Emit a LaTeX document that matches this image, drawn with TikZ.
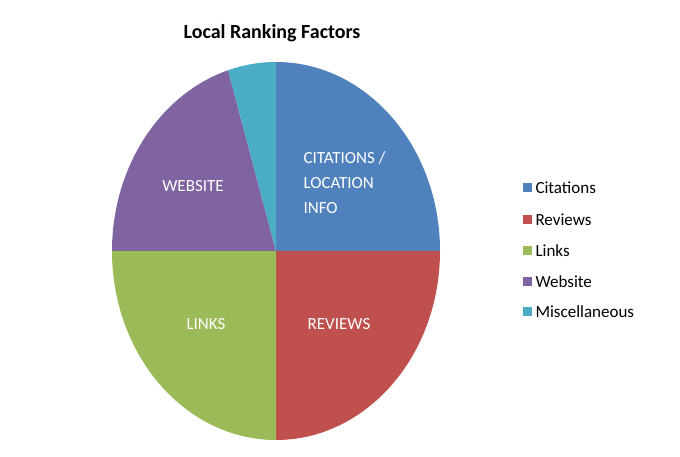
\documentclass[tikz,border=0pt]{standalone}
\usepackage{fontspec}
\setmainfont{Carlito}
\definecolor{cblue}{HTML}{4F81BD}
\definecolor{cred}{HTML}{C0504D}
\definecolor{cgreen}{HTML}{9BBB59}
\definecolor{cpurple}{HTML}{8064A2}
\definecolor{ccyan}{HTML}{4BACC6}
\begin{document}
\begin{tikzpicture}[x=1pt,y=1pt,
  lbl/.style={text=white,font=\fontsize{17}{25}\selectfont},
  leg/.style={font=\fontsize{17}{20}\selectfont,anchor=west},
  sq/.style={minimum size=9pt,inner sep=0pt}]
\useasboundingbox[fill=white] (0,0) rectangle (680,457);
\coordinate (c) at (276,206);
\def\rx{164pt}\def\ry{189pt}
\fill[cblue] (c) -- ++(0,189) arc[start angle=90,end angle=0,x radius=\rx,y radius=\ry] -- cycle;
\fill[cred] (c) -- ++(164,0) arc[start angle=0,end angle=-90,x radius=\rx,y radius=\ry] -- cycle;
\fill[cgreen] (c) -- ++(0,-189) arc[start angle=-90,end angle=-180,x radius=\rx,y radius=\ry] -- cycle;
\fill[cpurple] (c) -- ++(-164,0) arc[start angle=180,end angle=107,x radius=\rx,y radius=\ry] -- cycle;
\fill[ccyan] (c) -- ++({164*cos(107)},{189*sin(107)}) arc[start angle=107,end angle=90,x radius=\rx,y radius=\ry] -- cycle;
\node[font=\bfseries\fontsize{20}{24}\selectfont] (title) at (272,424) {Local Ranking Factors};
\node[lbl,align=left,anchor=west] (l1) at (300,274) {CITATIONS /\\LOCATION\\INFO};
\node[lbl] (l2) at (193,271) {WEBSITE};
\node[lbl] (l3) at (206,133) {LINKS};
\node[lbl] (l4) at (339,133) {REVIEWS};
\foreach \n/\col/\t/\y in {a/cblue/Citations/269, b/cred/Reviews/237, c2/cgreen/Links/206, d/cpurple/Website/175, e/ccyan/Miscellaneous/145}{
  \node[sq,fill=\col] (s\n) at (527,\y) {};
  \node[leg] (t\n) at (532,\y) {\t};
}
\end{tikzpicture}
\end{document}
